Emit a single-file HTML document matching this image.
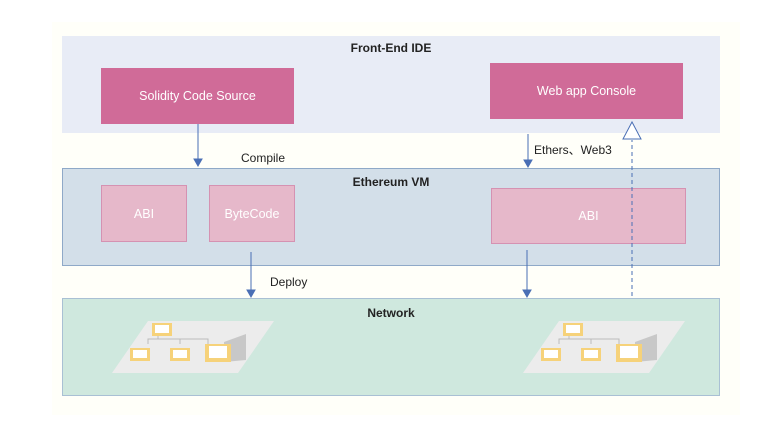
<!DOCTYPE html>
<html><head><meta charset="utf-8"><style>
body{margin:0;width:764px;height:430px;background:#fff;position:relative;overflow:hidden;font-family:"Liberation Sans",sans-serif;}
div{position:absolute;box-sizing:border-box;}
.t{font-size:12px;color:#222;}
.b{font-weight:bold;font-size:12px;color:#222;text-align:center;}
.pk{background:#d06b98;color:#fff;font-size:12.5px;display:flex;align-items:center;justify-content:center;}
.lp{background:#e6b8ca;border:1px solid #d592b2;color:#fff;font-size:12.5px;display:flex;align-items:center;justify-content:center;}
</style></head><body>
<div style="left:52px;top:22px;width:688px;height:393px;background:#fffff9"></div>
<div style="left:62px;top:36px;width:658px;height:97px;background:#e8ecf6"></div>
<div class="b" style="left:62px;top:41px;width:658px">Front-End IDE</div>
<div class="pk" style="left:101px;top:68px;width:193px;height:56px">Solidity Code Source</div>
<div class="pk" style="left:490px;top:63px;width:193px;height:56px">Web app Console</div>
<div style="left:62px;top:168px;width:658px;height:98px;background:#d3dfe9;border:1px solid #8fa9c8"></div>
<div class="b" style="left:62px;top:175px;width:658px">Ethereum VM</div>
<div class="lp" style="left:101px;top:185px;width:86px;height:57px">ABI</div>
<div class="lp" style="left:209px;top:185px;width:86px;height:57px">ByteCode</div>
<div class="lp" style="left:491px;top:188px;width:195px;height:56px">ABI</div>
<div style="left:62px;top:298px;width:658px;height:98px;background:#cfe8de;border:1px solid #a9c0d4"></div>
<div class="b" style="left:62px;top:306px;width:658px">Network</div>
<div class="t" style="left:241px;top:151px">Compile</div>
<div class="t" style="left:534px;top:141px">Ethers、Web3</div>
<div class="t" style="left:270px;top:275px">Deploy</div>
<svg width="764" height="430" style="position:absolute;left:0;top:0">
<g stroke="#4a6fb5" stroke-width="1" fill="#4a6fb5">
<line x1="198" y1="124" x2="198" y2="160"/><polygon points="194,159 202,159 198,166"/>
<line x1="528" y1="134" x2="528" y2="161"/><polygon points="524,160 532,160 528,167"/>
<line x1="251" y1="252" x2="251" y2="291"/><polygon points="247,290 255,290 251,297"/>
<line x1="527" y1="250" x2="527" y2="291"/><polygon points="523,290 531,290 527,297"/>
<line x1="632" y1="296" x2="632" y2="140" stroke-dasharray="4,3" fill="none"/>
<polygon points="632,122 623,139 641,139" fill="#fff"/>
</g>
<g id="net">
<polygon points="148,321 274,321 238,373 112,373" fill="#ececec"/>
<polygon points="224,342 246,334 246,360 224,362" fill="#c8c8c8"/>
<polyline points="148,344 148,339 208,339 208,344" stroke="#bbb" fill="none"/>
<line x1="158" y1="333" x2="158" y2="339" stroke="#bbb"/><line x1="180" y1="339" x2="180" y2="344" stroke="#bbb"/>
<rect x="152" y="323" width="20" height="13" fill="#f6d27a"/><rect x="155" y="325" width="14" height="8" fill="#fff"/>
<rect x="130" y="348" width="20" height="13" fill="#f6d27a"/><rect x="133" y="350" width="14" height="8" fill="#fff"/>
<rect x="170" y="348" width="20" height="13" fill="#f6d27a"/><rect x="173" y="350" width="14" height="8" fill="#fff"/>
<rect x="205" y="344" width="26" height="18" fill="#f6d27a"/><rect x="209" y="346" width="18" height="12" fill="#fff"/>
</g>
<use href="#net" x="411" y="0"/>
</svg>
</body></html>
